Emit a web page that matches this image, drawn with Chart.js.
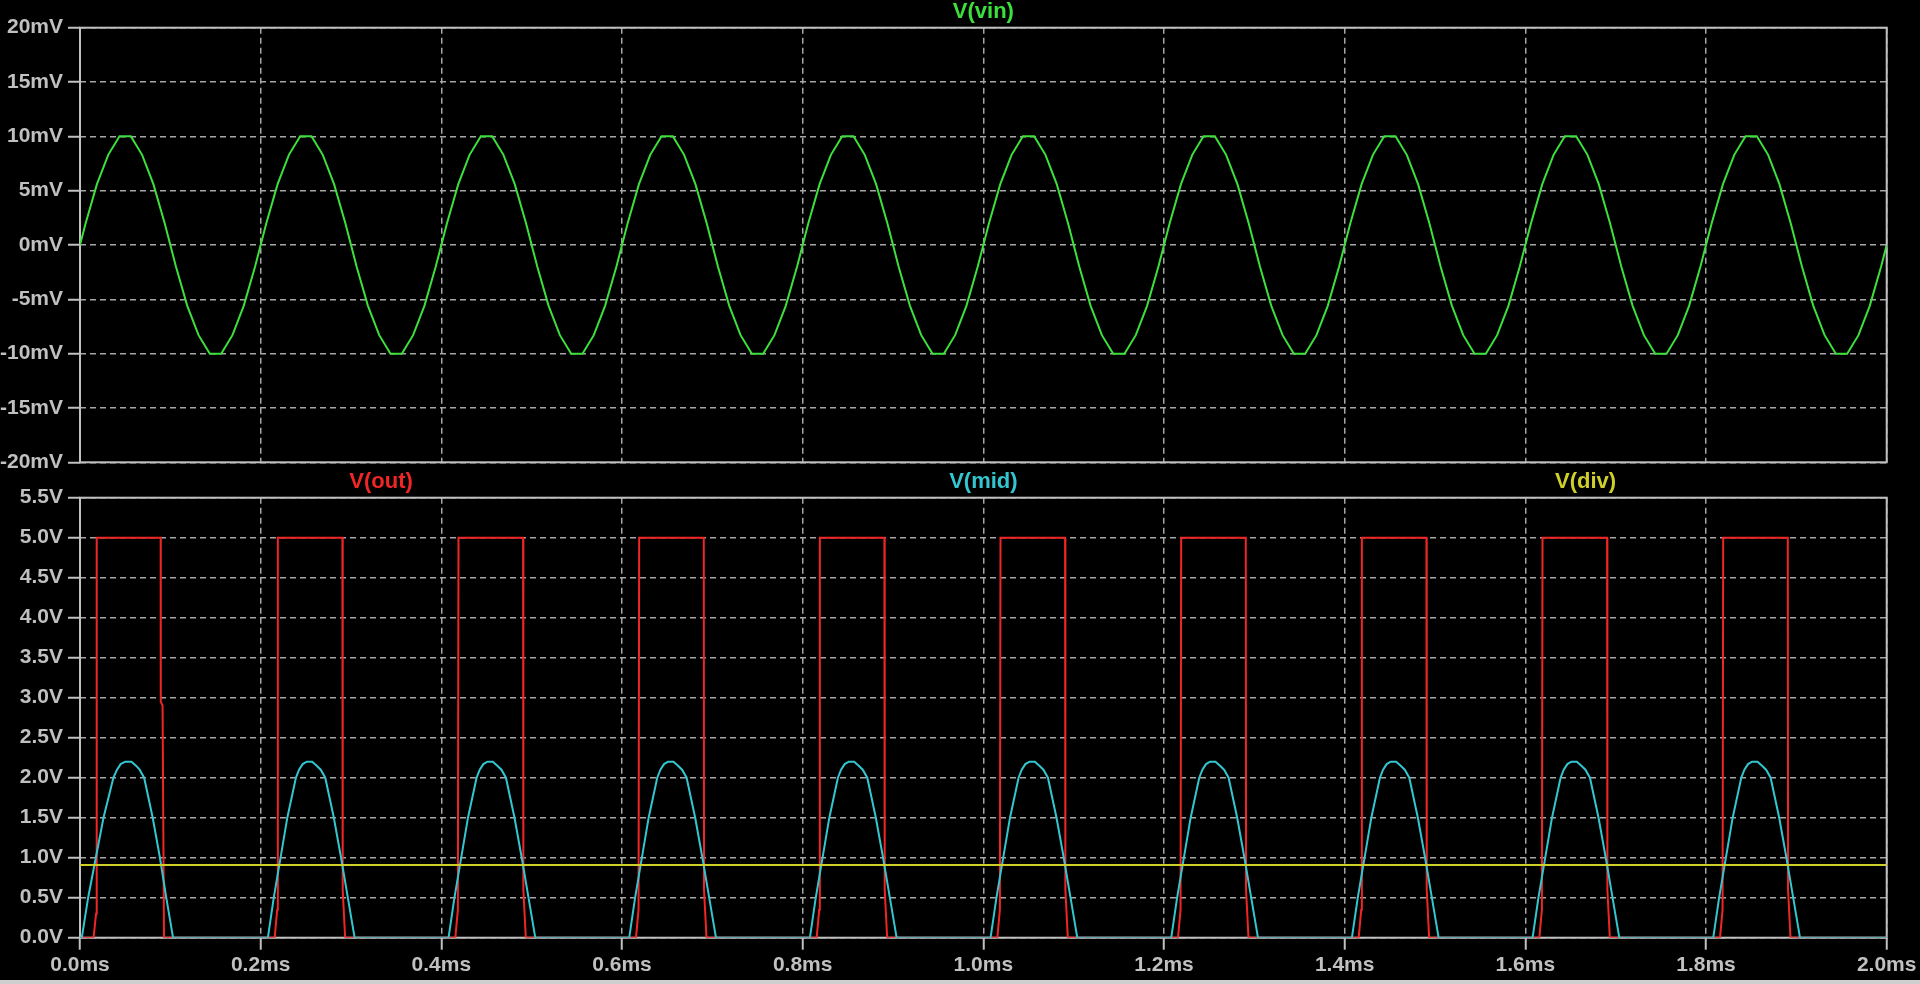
<!DOCTYPE html>
<html>
<head>
<meta charset="utf-8">
<script src="https://cdn.jsdelivr.net/npm/chart.js@4.4.1/dist/chart.umd.min.js"></script>
<style>
  html, body { margin: 0; padding: 0; background: #000; width: 1920px; height: 984px; overflow: hidden; }
  canvas { position: absolute; left: 0; }
  #top { top: 0; }
  #bot { top: 470px; }
  #edge { position: absolute; left: 0; top: 980px; width: 1920px; height: 4px; background: #cfcfcf; }
</style>
</head>
<body>
<canvas id="top" width="1920" height="490" style="width:1920px;height:490px"></canvas>
<canvas id="bot" width="1920" height="514" style="width:1920px;height:514px"></canvas>
<div id="edge"></div>
<script>
// ---------- DATA (time in ms) ----------
const xTickValues = [0, 0.2, 0.4, 0.6, 0.8, 1.0, 1.2, 1.4, 1.6, 1.8, 2.0];
const xTickLabels = ['0.0ms','0.2ms','0.4ms','0.6ms','0.8ms','1.0ms','1.2ms','1.4ms','1.6ms','1.8ms','2.0ms'];
const yTopTickValues = [-20, -15, -10, -5, 0, 5, 10, 15, 20];
const yTopTickLabels = ['-20mV','-15mV','-10mV','-5mV','0mV','5mV','10mV','15mV','20mV'];
const yBotTickValues = [0, 0.5, 1.0, 1.5, 2.0, 2.5, 3.0, 3.5, 4.0, 4.5, 5.0, 5.5];
const yBotTickLabels = ['0.0V','0.5V','1.0V','1.5V','2.0V','2.5V','3.0V','3.5V','4.0V','4.5V','5.0V','5.5V'];

const seriesNames = ['V(vin)', 'V(out)', 'V(mid)', 'V(div)'];

// V(vin) in mV
const vinTime = [0,
  0.00625,0.01875,0.03125,0.04375,0.05625,0.06875,0.08125,0.09375,0.10625,0.11875,0.13125,0.14375,0.15625,0.16875,0.18125,0.19375,
  0.20625,0.21875,0.23125,0.24375,0.25625,0.26875,0.28125,0.29375,0.30625,0.31875,0.33125,0.34375,0.35625,0.36875,0.38125,0.39375,
  0.40625,0.41875,0.43125,0.44375,0.45625,0.46875,0.48125,0.49375,0.50625,0.51875,0.53125,0.54375,0.55625,0.56875,0.58125,0.59375,
  0.60625,0.61875,0.63125,0.64375,0.65625,0.66875,0.68125,0.69375,0.70625,0.71875,0.73125,0.74375,0.75625,0.76875,0.78125,0.79375,
  0.80625,0.81875,0.83125,0.84375,0.85625,0.86875,0.88125,0.89375,0.90625,0.91875,0.93125,0.94375,0.95625,0.96875,0.98125,0.99375,
  1.00625,1.01875,1.03125,1.04375,1.05625,1.06875,1.08125,1.09375,1.10625,1.11875,1.13125,1.14375,1.15625,1.16875,1.18125,1.19375,
  1.20625,1.21875,1.23125,1.24375,1.25625,1.26875,1.28125,1.29375,1.30625,1.31875,1.33125,1.34375,1.35625,1.36875,1.38125,1.39375,
  1.40625,1.41875,1.43125,1.44375,1.45625,1.46875,1.48125,1.49375,1.50625,1.51875,1.53125,1.54375,1.55625,1.56875,1.58125,1.59375,
  1.60625,1.61875,1.63125,1.64375,1.65625,1.66875,1.68125,1.69375,1.70625,1.71875,1.73125,1.74375,1.75625,1.76875,1.78125,1.79375,
  1.80625,1.81875,1.83125,1.84375,1.85625,1.86875,1.88125,1.89375,1.90625,1.91875,1.93125,1.94375,1.95625,1.96875,1.98125,1.99375,
  2.0];
const vinValue = [0,
  2,5.6,8.3,10,10,8.3,5.6,2,-2,-5.6,-8.3,-10,-10,-8.3,-5.6,-2,
  2,5.6,8.3,10,10,8.3,5.6,2,-2,-5.6,-8.3,-10,-10,-8.3,-5.6,-2,
  2,5.6,8.3,10,10,8.3,5.6,2,-2,-5.6,-8.3,-10,-10,-8.3,-5.6,-2,
  2,5.6,8.3,10,10,8.3,5.6,2,-2,-5.6,-8.3,-10,-10,-8.3,-5.6,-2,
  2,5.6,8.3,10,10,8.3,5.6,2,-2,-5.6,-8.3,-10,-10,-8.3,-5.6,-2,
  2,5.6,8.3,10,10,8.3,5.6,2,-2,-5.6,-8.3,-10,-10,-8.3,-5.6,-2,
  2,5.6,8.3,10,10,8.3,5.6,2,-2,-5.6,-8.3,-10,-10,-8.3,-5.6,-2,
  2,5.6,8.3,10,10,8.3,5.6,2,-2,-5.6,-8.3,-10,-10,-8.3,-5.6,-2,
  2,5.6,8.3,10,10,8.3,5.6,2,-2,-5.6,-8.3,-10,-10,-8.3,-5.6,-2,
  2,5.6,8.3,10,10,8.3,5.6,2,-2,-5.6,-8.3,-10,-10,-8.3,-5.6,-2,
  0];

// V(mid) in V
const midTime = [0,0.002,0.009,0.0175,0.026,0.037,0.041,0.045,0.050,0.057,0.062,0.066,0.071,0.0805,0.0885,0.0955,0.103,
  0.208,0.2145,0.222,0.2295,0.239,0.2425,0.2465,0.251,0.257,0.262,0.2665,0.2715,0.281,0.289,0.2965,0.304,
  0.408,0.4145,0.422,0.4295,0.439,0.4425,0.4465,0.451,0.457,0.462,0.4665,0.4715,0.481,0.489,0.4965,0.504,
  0.608,0.6145,0.622,0.6295,0.639,0.6425,0.6465,0.651,0.657,0.662,0.6665,0.6715,0.681,0.689,0.6965,0.704,
  0.808,0.8145,0.822,0.8295,0.839,0.8425,0.8465,0.851,0.857,0.862,0.8665,0.8715,0.881,0.889,0.8965,0.904,
  1.008,1.0145,1.022,1.0295,1.039,1.0425,1.0465,1.051,1.057,1.062,1.0665,1.0715,1.081,1.089,1.0965,1.104,
  1.208,1.2145,1.222,1.2295,1.239,1.2425,1.2465,1.251,1.257,1.262,1.2665,1.2715,1.281,1.289,1.2965,1.304,
  1.408,1.4145,1.422,1.4295,1.439,1.4425,1.4465,1.451,1.457,1.462,1.4665,1.4715,1.481,1.489,1.4965,1.504,
  1.608,1.6145,1.622,1.6295,1.639,1.6425,1.6465,1.651,1.657,1.662,1.6665,1.6715,1.681,1.689,1.6965,1.704,
  1.808,1.8145,1.822,1.8295,1.839,1.8425,1.8465,1.851,1.857,1.862,1.8665,1.8715,1.881,1.889,1.8965,1.904,
  2.0];
const midValue = [0,0,0.5,1.0,1.5,2.0,2.1,2.17,2.2,2.2,2.15,2.1,2.0,1.5,1.0,0.5,0,
  0,0.5,1.0,1.5,2.0,2.1,2.17,2.2,2.2,2.15,2.1,2.0,1.5,1.0,0.5,0,
  0,0.5,1.0,1.5,2.0,2.1,2.17,2.2,2.2,2.15,2.1,2.0,1.5,1.0,0.5,0,
  0,0.5,1.0,1.5,2.0,2.1,2.17,2.2,2.2,2.15,2.1,2.0,1.5,1.0,0.5,0,
  0,0.5,1.0,1.5,2.0,2.1,2.17,2.2,2.2,2.15,2.1,2.0,1.5,1.0,0.5,0,
  0,0.5,1.0,1.5,2.0,2.1,2.17,2.2,2.2,2.15,2.1,2.0,1.5,1.0,0.5,0,
  0,0.5,1.0,1.5,2.0,2.1,2.17,2.2,2.2,2.15,2.1,2.0,1.5,1.0,0.5,0,
  0,0.5,1.0,1.5,2.0,2.1,2.17,2.2,2.2,2.15,2.1,2.0,1.5,1.0,0.5,0,
  0,0.5,1.0,1.5,2.0,2.1,2.17,2.2,2.2,2.15,2.1,2.0,1.5,1.0,0.5,0,
  0,0.5,1.0,1.5,2.0,2.1,2.17,2.2,2.2,2.15,2.1,2.0,1.5,1.0,0.5,0,
  0];

// V(out) in V
const outTime = [0,0.0150,0.0178,0.0185,0.0893,0.0894,0.0914,0.0930,
  0.2155,0.2183,0.2190,0.2905,0.2908,0.2935,
  0.4155,0.4183,0.4190,0.4905,0.4908,0.4935,
  0.6155,0.6183,0.6190,0.6905,0.6908,0.6935,
  0.8155,0.8183,0.8190,0.8905,0.8908,0.8935,
  1.0155,1.0183,1.0190,1.0905,1.0908,1.0935,
  1.2155,1.2183,1.2190,1.2905,1.2908,1.2935,
  1.4155,1.4183,1.4190,1.4905,1.4908,1.4935,
  1.6155,1.6183,1.6190,1.6905,1.6908,1.6935,
  1.8155,1.8183,1.8190,1.8905,1.8908,1.8935,
  2.0];
const outValue = [0,0,0.3,5.0,5.0,2.95,2.9,0,
  0,0.35,5.0,5.0,0.6,0,
  0,0.35,5.0,5.0,0.6,0,
  0,0.35,5.0,5.0,0.6,0,
  0,0.35,5.0,5.0,0.6,0,
  0,0.35,5.0,5.0,0.6,0,
  0,0.35,5.0,5.0,0.6,0,
  0,0.35,5.0,5.0,0.6,0,
  0,0.35,5.0,5.0,0.6,0,
  0,0.35,5.0,5.0,0.6,0,
  0];

// V(div) in V
const divTime = [0, 2.0];
const divValue = [0.91, 0.91];

// ---------- STYLE ----------
const COL = { vin: '#3ce03c', out: '#f02626', mid: '#34c6d0', div: '#cfcf2a' };
const LABEL_COLOR = '#c0c0c0';
const GRID_COLOR = '#a6a6a6';
const FONT = { family: '"Liberation Sans", Arial, sans-serif', size: 21, weight: 'bold' };

function pts(t, v) { return t.map((x, i) => ({ x: x, y: v[i] })); }

const framePlugin = {
  id: 'frame',
  beforeDatasetsDraw(chart) {
    const a = chart.chartArea, ctx = chart.ctx;
    ctx.save();
    ctx.strokeStyle = LABEL_COLOR;
    ctx.lineWidth = 2;
    ctx.setLineDash([]);
    ctx.strokeRect(a.left, a.top, a.right - a.left, a.bottom - a.top);
    ctx.restore();
  }
};

function titlePlugin(items) {
  return {
    id: 'titles',
    afterDraw(chart) {
      const a = chart.chartArea, ctx = chart.ctx;
      ctx.save();
      ctx.font = 'bold 22px "Liberation Sans", Arial, sans-serif';
      ctx.textAlign = 'center';
      ctx.textBaseline = 'middle';
      items.forEach(it => {
        ctx.fillStyle = it.color;
        ctx.fillText(it.text, a.left + (a.right - a.left) * it.frac, a.top - 16);
      });
      ctx.restore();
    }
  };
}

function gridOpts(drawTicks) {
  return {
    color: GRID_COLOR, lineWidth: 1.5,
    drawTicks: drawTicks, tickLength: 12, tickColor: LABEL_COLOR, tickWidth: 2, tickBorderDash: []
  };
}
const borderOpts = { display: false, dash: [6, 4], dashOffset: 0 };

function fixedTicks(values) {
  return scale => { scale.ticks = values.map(v => ({ value: v })); };
}

const common = {
  responsive: false, animation: false, devicePixelRatio: 1,
  plugins: { legend: { display: false }, tooltip: { enabled: false }, title: { display: false } },
  elements: { point: { radius: 0 }, line: { tension: 0, borderWidth: 2 } }
};

// ---------- TOP CHART ----------
new Chart(document.getElementById('top'), {
  type: 'line',
  data: {
    datasets: [
      { label: seriesNames[0], data: pts(vinTime, vinValue), borderColor: COL.vin, borderWidth: 2, pointRadius: 0 }
    ]
  },
  options: Object.assign({}, common, {
    layout: { padding: { left: 0, right: 33.3, top: 27.7, bottom: 27.7 } },
    scales: {
      x: {
        type: 'linear', min: 0, max: 2, position: 'bottom',
        afterBuildTicks: fixedTicks(xTickValues),
        afterFit: s => { s.height = 0; },
        ticks: { display: false },
        grid: gridOpts(false),
        border: borderOpts
      },
      y: {
        type: 'linear', min: -20, max: 20,
        afterBuildTicks: fixedTicks(yTopTickValues),
        afterFit: s => { s.width = 80; },
        ticks: {
          color: LABEL_COLOR, font: FONT, padding: 5, autoSkip: false,
          callback: v => yTopTickLabels[yTopTickValues.indexOf(v)]
        },
        grid: gridOpts(true),
        border: borderOpts
      }
    }
  }),
  plugins: [framePlugin, titlePlugin([{ text: seriesNames[0], color: COL.vin, frac: 0.5 }])]
});

// ---------- BOTTOM CHART ----------
new Chart(document.getElementById('bot'), {
  type: 'line',
  data: {
    datasets: [
      { label: seriesNames[1], data: pts(outTime, outValue), borderColor: COL.out, borderWidth: 2, pointRadius: 0, order: 3 },
      { label: seriesNames[2], data: pts(midTime, midValue), borderColor: COL.mid, borderWidth: 2, pointRadius: 0, order: 2 },
      { label: seriesNames[3], data: pts(divTime, divValue), borderColor: COL.div, borderWidth: 2, pointRadius: 0, order: 1 }
    ]
  },
  options: Object.assign({}, common, {
    layout: { padding: { left: 0, right: 33.3, top: 27.7, bottom: 0 } },
    scales: {
      x: {
        type: 'linear', min: 0, max: 2, position: 'bottom',
        afterBuildTicks: fixedTicks(xTickValues),
        afterFit: s => { s.height = 46.3; },
        ticks: {
          color: LABEL_COLOR, font: FONT, padding: 3, autoSkip: false, maxRotation: 0,
          callback: v => xTickLabels[xTickValues.indexOf(v)]
        },
        grid: gridOpts(true),
        border: borderOpts
      },
      y: {
        type: 'linear', min: 0, max: 5.5,
        afterBuildTicks: fixedTicks(yBotTickValues),
        afterFit: s => { s.width = 80; },
        ticks: {
          color: LABEL_COLOR, font: FONT, padding: 5, autoSkip: false,
          callback: v => yBotTickLabels[yBotTickValues.indexOf(v)]
        },
        grid: gridOpts(true),
        border: borderOpts
      }
    }
  }),
  plugins: [framePlugin, titlePlugin([
    { text: seriesNames[1], color: COL.out, frac: 1 / 6 },
    { text: seriesNames[2], color: COL.mid, frac: 3 / 6 },
    { text: seriesNames[3], color: COL.div, frac: 5 / 6 }
  ])]
});
</script>
</body>
</html>
